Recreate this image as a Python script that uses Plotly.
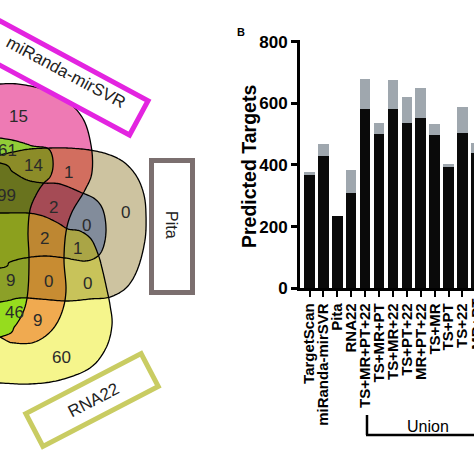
import numpy as np
import plotly.graph_objects as go

# ---------------- data ----------------
categories = ["TargetScan", "miRanda-mirSVR", "Pita", "RNA22", "TS+MR+PT+22", "TS+MR+PT",
              "TS+MR+22", "TS+PT+22", "MR+PT+22", "TS+MR", "TS+PT", "TS+22", "MR+PT"]
black_values = [366, 430, 234, 308, 581, 499, 580, 535, 551, 496, 392, 504, 438]
gray_values = [10, 37, 0, 75, 98, 36, 97, 84, 99, 38, 12, 83, 32]
y_ticks = [0, 200, 400, 600, 800]

venn_counts = ["15", "61", "14", "1", "99", "2", "0", "0", "2", "1", "9", "0", "0", "46", "9", "60"]

# ---------------- layout helpers ----------------
W = 474
FONT = "Liberation Sans, Arial, sans-serif"


def px(x):
    return x / W


def py(y):
    return 1 - y / W


def spline(pts, n=14):
    P = np.array(pts, float)
    m = len(P)
    out = []
    for i in range(m):
        p0, p1, p2, p3 = P[i - 1], P[i], P[(i + 1) % m], P[(i + 2) % m]
        for t in np.linspace(0, 1, n, endpoint=False):
            t2, t3 = t * t, t * t * t
            out.append(0.5 * ((2 * p1) + (-p0 + p2) * t + (2 * p0 - 5 * p1 + 4 * p2 - p3) * t2
                              + (-p0 + 3 * p1 - 3 * p2 + p3) * t3))
    return np.array(out)


def to_path(poly):
    return "M " + " L ".join(f"{px(x):.4f},{py(y):.4f}" for x, y in poly) + " Z"


def rot_rect(cx, cy, L, H, ang):
    a = np.radians(ang)
    c, s = np.cos(a), np.sin(a)
    pts = []
    for dx, dy in [(-L / 2, -H / 2), (L / 2, -H / 2), (L / 2, H / 2), (-L / 2, H / 2)]:
        pts.append((cx + dx * c - dy * s, cy + dx * s + dy * c))
    return to_path(pts)


def inside(poly, X, Y):
    res = np.zeros(X.shape, bool)
    n = len(poly)
    j = n - 1
    for i in range(n):
        xi, yi = poly[i]
        xj, yj = poly[j]
        cond = ((yi > Y) != (yj > Y)) & (X < (xj - xi) * (Y - yi) / (yj - yi + 1e-12) + xi)
        res ^= cond
        j = i
    return res


# ---------------- venn outlines (pixel coords) ----------------
MR = spline([(-60, 92), (0, 84), (30, 86), (60, 96), (82, 117), (91, 145), (92, 172), (85, 190),
             (72, 212), (66, 232), (64, 260), (66, 290), (62, 312), (52, 330), (35, 342), (15, 343),
             (0, 337), (-60, 300)])
TS = spline([(-60, 130), (0, 138), (20, 142), (33, 146), (47, 148), (52, 155), (53, 167), (50, 177),
             (43, 184), (36, 195), (30, 210), (28, 232), (29, 258), (28, 290), (24, 310), (15, 326),
             (3, 336), (-60, 345)])
PT = spline([(-60, 170), (0, 155), (13, 152), (30, 149), (50, 148), (67, 148), (90, 150), (110, 155),
             (125, 163), (137, 177), (144, 195), (146, 215), (145, 240), (138, 268), (127, 287),
             (110, 297), (90, 299), (67, 301), (40, 299), (20, 298), (0, 302), (-60, 310)])
XS = spline([(-60, 158), (0, 163), (13, 172), (27, 180), (43, 183), (60, 184), (80, 192), (95, 199),
             (103, 210), (106, 228), (104, 245), (98, 256), (85, 261), (65, 258), (45, 256), (25, 258),
             (10, 262), (0, 268), (-60, 270)])
RN = spline([(-60, 212), (0, 213), (27, 213), (43, 216), (58, 223), (68, 229), (80, 231), (91, 239),
             (98, 254), (102, 268), (107, 290), (110, 305), (112, 325), (106, 348), (90, 368),
             (60, 380), (30, 384), (0, 383), (-60, 380)])
sets = [MR, TS, PT, XS, RN]  # bits 1,2,4,8,16

region_colors = {
    0: (255, 255, 255), 1: (238, 122, 180), 2: (150, 210, 60), 3: (145, 205, 55),
    4: (205, 195, 160), 5: (210, 110, 95), 7: (140, 140, 40), 12: (130, 140, 155),
    13: (165, 75, 85), 15: (105, 115, 30), 16: (245, 245, 140), 17: (240, 170, 80),
    19: (150, 220, 30), 20: (200, 195, 90), 21: (200, 140, 50), 23: (140, 160, 40),
    28: (170, 165, 70), 29: (190, 135, 50), 31: (140, 160, 30),
}
base = [(238, 122, 180), (150, 210, 60), (205, 195, 160), (160, 170, 200), (245, 245, 140)]

gx0, gx1, gy0, gy1 = 0, 230, 60, 410
Xg, Yg = np.meshgrid(np.arange(gx0, gx1) + 0.5, np.arange(gy0, gy1) + 0.5)
code = np.zeros(Xg.shape, int)
for b, poly in enumerate(sets):
    code |= inside(poly, Xg, Yg).astype(int) << b
img = np.zeros(Xg.shape + (3,), np.uint8)
for c in np.unique(code):
    if c in region_colors:
        col = region_colors[c]
    else:
        col = np.array([255.0, 255.0, 255.0])
        for b in range(5):
            if c >> b & 1:
                col = col * np.array(base[b]) / 255.0
        col = tuple(int(v) for v in col)
    img[code == c] = col

# ---------------- figure ----------------
fig = go.Figure()
fig.add_trace(go.Image(z=img, x0=gx0 + 0.5, dx=1, y0=gy0 + 0.5, dy=1, xaxis="x2", yaxis="y2",
                       hoverinfo="skip"))
fig.add_trace(go.Bar(x=categories, y=black_values, marker=dict(color="#0a0a0a", line=dict(width=0)),
                     hoverinfo="skip"))
fig.add_trace(go.Bar(x=categories, y=gray_values, marker=dict(color="#9fa7ae", line=dict(width=0)),
                     hoverinfo="skip"))

shapes = []
for poly in sets:
    shapes.append(dict(type="path", xref="paper", yref="paper", path=to_path(poly),
                       fillcolor="rgba(0,0,0,0)", line=dict(color="black", width=1.3)))

# label boxes
shapes.append(dict(type="path", xref="paper", yref="paper", path=rot_rect(64.4, 77.8, 169, 39, 28.3),
                   fillcolor="white", line=dict(color="#e324e0", width=5)))
shapes.append(dict(type="rect", xref="paper", yref="paper", x0=px(151.5), x1=px(192.5),
                   y0=py(292.5), y1=py(160.5), fillcolor="white", line=dict(color="#7b6f6f", width=5)))
shapes.append(dict(type="path", xref="paper", yref="paper", path=rot_rect(92, 400, 130, 37, -27.5),
                   fillcolor="white", line=dict(color="#c9cc62", width=5)))

# union bracket
shapes.append(dict(type="line", xref="paper", yref="paper", x0=px(367), x1=px(367), y0=py(415),
                   y1=py(435), line=dict(color="black", width=2.5)))
shapes.append(dict(type="line", xref="paper", yref="paper", x0=px(366), x1=px(480), y0=py(435),
                   y1=py(435), line=dict(color="black", width=2.5)))


def note(x, y, text, size, angle=0, color="#222", **kw):
    d = dict(x=px(x), y=py(y), xref="paper", yref="paper", text=text, showarrow=False,
             textangle=angle, xanchor="center", yanchor="middle",
             font=dict(family=FONT, size=size, color=color))
    d.update(kw)
    return d


annotations = []
venn_pos = [(18, 117), (7, 150), (33, 165), (68, 172), (6, 195), (53, 207), (125, 212), (86, 225),
            (44, 239), (77, 248), (10, 280), (48, 281), (87, 283), (14, 312), (37, 320), (61, 357)]
for txt, (x, y) in zip(venn_counts, venn_pos):
    annotations.append(note(x, y, txt, 17, color="#2a2a2a"))

annotations += [
    note(66, 72, "miRanda-mirSVR", 17, 28.3),
    note(172, 225, "Pita", 16, 90),
    note(93, 400, "RNA22", 17, -27.5),
    note(241, 32, "<b>B</b>", 11, color="black"),
    note(249, 167, "<b>Predicted Targets</b>", 19.5, -90, color="black"),
    note(428, 426, "Union", 16, color="black"),
    # last category label, partly beyond the right edge
    note(309.5 + 12 * 13.9, 297, f"<b>{categories[12]}</b>", 15, -90, color="black", yanchor="top"),
]

y0_px, ytop_px = 288.3, 40.1
fig.update_layout(
    width=W, height=W, margin=dict(l=0, r=0, t=0, b=0, autoexpand=False),
    paper_bgcolor="white", plot_bgcolor="white", showlegend=False,
    barmode="stack", bargap=0.245,
    shapes=shapes, annotations=annotations,
    xaxis=dict(domain=[px(300), 1], range=[-0.683, 11.83], type="category",
               tickmode="array", tickvals=categories, ticktext=categories,
               tickangle=-90, tickfont=dict(family=FONT, size=15, color="black", weight="bold"),
               ticks="outside", ticklen=6, tickwidth=2, tickcolor="black",
               showline=True, linewidth=3, linecolor="black", showgrid=False, zeroline=False),
    yaxis=dict(domain=[py(y0_px), py(ytop_px)], range=[0, 805], tickvals=y_ticks,
               tickfont=dict(family=FONT, size=17, color="black", weight="bold"),
               ticks="outside", ticklen=6, tickwidth=3, tickcolor="black",
               showline=True, linewidth=3, linecolor="black", showgrid=False, zeroline=False),
    xaxis2=dict(domain=[0, px(gx1)], range=[gx0, gx1], anchor="y2", visible=False),
    yaxis2=dict(domain=[py(gy1), py(gy0)], range=[gy1, gy0], anchor="x2", visible=False),
)

fig.write_html("out.html", config={"displayModeBar": False, "staticPlot": True},
               post_script="document.body.style.margin='0';document.body.style.overflow='hidden';")
